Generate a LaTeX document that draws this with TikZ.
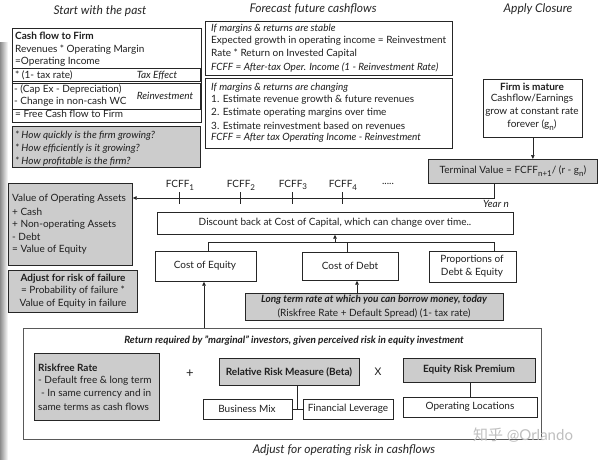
\documentclass[tikz,border=0pt]{standalone}
\usepackage{fontspec}
\setmainfont{Lato}
\newfontfamily\cjkf{Noto Sans CJK SC}
\usetikzlibrary{arrows.meta}
\newcommand\subn[1]{\raisebox{-0.55ex}{\fontsize{8}{8}\selectfont #1}}
\newcommand\fs{\fontsize{10}{12}\selectfont}
\begin{document}
\begin{tikzpicture}[x=1pt,y=-1pt,
  box/.style={draw=black!85, line width=0.7pt, inner sep=0pt, anchor=north west},
  gbox/.style={box, fill=black!20},
  t/.style={inner sep=0pt, anchor=west, font=\fs, text=black!88},
  tc/.style={t, anchor=center},
  ti/.style={t, font=\fs\itshape},
  tb/.style={t, font=\fs\bfseries},
  ttl/.style={inner sep=0pt, font=\fontsize{12}{14}\selectfont\itshape, text=black!85},
  arr/.style={-{Triangle[length=4pt,width=3.5pt]}, line width=0.7pt, draw=black!85},
  ln/.style={line width=0.7pt, draw=black!85}]
\useasboundingbox (0,0) rectangle (600,459);
\fill[white] (0,0) rectangle (600,459);
\shade[left color=black!45, right color=white] (0,42) rectangle (8,459);

% titles
\node[ttl] (h1) at (100,11) {Start with the past};
\node[ttl] (h2) at (313,9) {Forecast future cashflows};
\node[ttl] (h3) at (538,9) {Apply Closure};
\node[ttl] (h4) at (344,450) {Adjust for operating risk in cashflows};

% cash flow to firm
\node[box, minimum width=189, minimum height=94] (cf) at (12,28) {};
\node[box, line width=1.1pt, minimum width=188, minimum height=13] (tax) at (12,68) {};
\node[box, minimum width=188, minimum height=26] (reinv) at (12,83) {};
\node[tb] (cf1) at (15,36) {Cash flow to Firm};
\node[t] (cf2) at (15,50) {Revenues * Operating Margin};
\node[t] (cf3) at (15,62) {=Operating Income};
\node[t] (cf4) at (15,75) {* (1- tax rate)};
\node[ti, anchor=center] (cf5) at (157,75) {Tax Effect};
\node[t] (cf6) at (14,89) {- (Cap Ex - Depreciation)};
\node[t] (cf7) at (14,102) {- Change in non-cash WC};
\node[ti, anchor=center] (cf8) at (165,96) {Reinvestment};
\node[t] (cf9) at (15,114) {= Free Cash flow to Firm};

\node[gbox, minimum width=188, minimum height=41] (q) at (12,126) {};
\node[ti] (q1) at (15,136) {* How quickly is the firm growing?};
\node[ti] (q2) at (15,149) {* How efficiently is it growing?};
\node[ti] (q3) at (15,162) {* How profitable is the firm?};

% forecast boxes
\node[box, minimum width=247, minimum height=54] (f1) at (205,21) {};
\node[ti] (f11) at (211,29) {If margins \& returns are stable};
\node[t] (f12) at (211,41) {Expected growth in operating income = Reinvestment};
\node[t] (f13) at (211,54) {Rate * Return on Invested Capital};
\node[ti] (f14) at (211,67) {FCFF = After-tax Oper. Income (1 - Reinvestment Rate)};

\node[box, minimum width=247, minimum height=70] (f2) at (205,78) {};
\node[ti] (f21) at (211,88) {If margins \& returns are changing};
\node[t] (f22) at (211,100) {1. Estimate revenue growth \& future revenues};
\node[t] (f23) at (211,113) {2. Estimate operating margins over time};
\node[t] (f24) at (211,126) {3. Estimate reinvestment based on revenues};
\node[ti] (f25) at (211,138) {FCFF = After tax Operating Income - Reinvestment};

% closure
\node[box, minimum width=99, minimum height=58] (fm) at (483,79) {};
\node[tb, anchor=center] (fm1) at (532,87) {Firm is mature};
\node[tc] (fm2) at (532,99) {Cashflow/Earnings};
\node[tc] (fm3) at (532,112) {grow at constant rate};
\node[tc] (fm4) at (532,125) {forever (g\subn{n})};

\node[gbox, minimum width=169, minimum height=24] (tv) at (428,159) {};
\node[tc] (tvt) at (513,171) {Terminal Value = FCFF\subn{n+1}/ (r - g\subn{n})};
\draw[arr] (fm.south) -- (tv.north -| fm.south);

% timeline
\node[gbox, minimum width=124, minimum height=82] (voa) at (8,183) {};
\node[t] (v1) at (12,199) {Value of Operating Assets};
\node[t] (v2) at (12,212) {+ Cash};
\node[t] (v3) at (12,225) {+ Non-operating Assets};
\node[t] (v4) at (12,237) {- Debt};
\node[t] (v5) at (12,250) {= Value of Equity};

\coordinate (tl) at (494,198);
\draw[arr] (tv.south -| tl) -- (tl) -- (voa.east |- tl);
\node[ti, anchor=center] (yn) at (496,204) {Year n};
\foreach \n/\x in {1/179,2/240,3/292,4/342}{
  \coordinate (tk\n) at (\x,198);
  \draw[ln] ([yshift=6pt]tk\n) -- ([yshift=-6pt]tk\n);
  \node[tc] (fc\n) at (\x+1,185) {FCFF\subn{\n}};
}
\node[tc] (dots) at (388,184) {.....};

\node[gbox, minimum width=129, minimum height=42] (adj) at (8,270) {};
\node[tb, anchor=center] (a1) at (73,279) {Adjust for risk of failure};
\node[tc] (a2) at (73,291) {= Probability of failure *};
\node[tc] (a3) at (73,304) {Value of Equity in failure};

% discount
\node[box, minimum width=356, minimum height=22] (disc) at (157,212) {};
\node[tc] (dt) at (335,223) {Discount back at Cost of Capital, which can change over time..};
\node[box, minimum width=101, minimum height=30] (ce) at (155,251) {};
\node[tc] (cet) at (205,266) {Cost of Equity};
\node[box, minimum width=96, minimum height=28] (cd) at (302,252) {};
\node[tc] (cdt) at (350,266) {Cost of Debt};
\node[box, minimum width=87, minimum height=31] (pde) at (429,251) {};
\node[tc] (p1) at (472,260) {Proportions of};
\node[tc] (p2) at (472,273) {Debt \& Equity};

\coordinate (j1) at (208,242);
\coordinate (j2) at (347,242);
\coordinate (j3) at (494,242);
\coordinate (jm) at (335,242);
\draw[ln] (ce.north -| j1) -- (j1) -- (j3) -- (pde.north -| j3);
\draw[ln] (j2) -- (cd.north -| j2);
\draw[arr] (jm) -- (disc.south -| jm);

\node[gbox, minimum width=258, minimum height=27] (lt) at (245,293) {};
\node[tc, font=\fs\bfseries\itshape] (lt1) at (374,300) {Long term rate at which you can borrow money, today};
\node[tc] (lt2) at (374,313) {(Riskfree Rate + Default Spread) (1- tax rate)};
\coordinate (ja) at (357,290);
\draw[arr] (lt.north -| ja) -- (cd.south -| ja);

% big box
\node[box, draw=black!65, line width=1.1pt, minimum width=518, minimum height=111] (big) at (23,328) {};
\node[tc, font=\fs\bfseries\itshape] (bt) at (294,341) {Return required by "marginal" investors, given perceived risk in equity investment};
\coordinate (jb) at (204,320);
\draw[arr] (big.north -| jb) -- (ce.south -| jb);

\node[gbox, minimum width=125, minimum height=67] (rf) at (34,353) {};
\node[tb] (rf1) at (38,368) {Riskfree Rate};
\node[t] (rf2) at (38,381) {- Default free \& long term};
\node[t] (rf3) at (41,394) {- In same currency and in};
\node[t] (rf4) at (38,407) {same terms as cash flows};
\node[tc, font=\fontsize{13}{14}\selectfont] (plus) at (190,374) {+};

\node[gbox, minimum width=140, minimum height=27] (rr) at (219,358) {};
\node[tb, anchor=center] (rrt) at (289,372) {Relative Risk Measure (Beta)};
\node[tc, font=\fontsize{10.5}{12}\selectfont] (times) at (378,372) {X};
\node[gbox, minimum width=132, minimum height=24] (erp) at (403,358) {};
\node[tb, anchor=center] (erpt) at (469,370) {Equity Risk Premium};

\node[box, minimum width=89, minimum height=20] (bm) at (203,399) {};
\node[tc] (bmt) at (247,409) {Business Mix};
\node[box, minimum width=90, minimum height=20] (fl) at (303,399) {};
\node[tc] (flt) at (348,409) {Financial Leverage};
\node[box, minimum width=134, minimum height=20] (ol) at (403,397) {};
\node[tc] (olt) at (470,407) {Operating Locations};
\coordinate (jr) at (297,409);
\draw[ln] (rr.south -| jr) -- (jr);
\draw[ln] (bm.east) -- (fl.west);
\draw[ln] (erp.south -| ol.north) -- (ol.north);

% watermark
\node[inner sep=0pt, text=black!25, font=\fontsize{15}{16}\selectfont] (wm) at (523,435) {{\cjkf 知乎} @Orlando};
\end{tikzpicture}
\end{document}
